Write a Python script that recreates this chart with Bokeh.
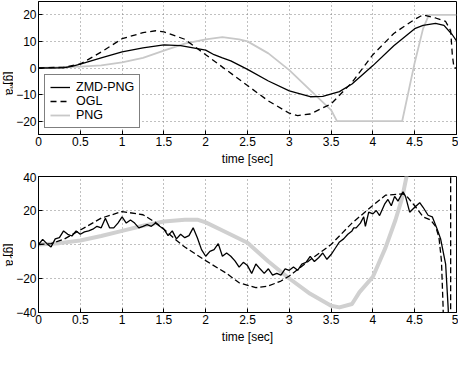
from math import pi
from bokeh.plotting import figure
from bokeh.layouts import column, row
from bokeh.models import Range1d, Label, Legend, LegendItem, FixedTicker
from bokeh.embed import file_html
from bokeh.resources import INLINE

# ---------------- data ----------------
x_ticks = [0, 0.5, 1, 1.5, 2, 2.5, 3, 3.5, 4, 4.5, 5]
x_tick_labels = ["0", "0.5", "1", "1.5", "2", "2.5", "3", "3.5", "4", "4.5", "5"]
top_y_ticks = [-20, -10, 0, 10, 20]
bot_y_ticks = [-40, -20, 0, 20, 40]

# top panel: missile acceleration a_M [g]
zmd_top_t = [0, 0.3, 0.4, 0.5, 0.75, 1.0, 1.25, 1.5, 1.7, 1.85, 2.0, 2.1, 2.2, 2.3, 2.5, 2.75,
             3.0, 3.25, 3.4, 3.6, 3.75, 4.0, 4.25, 4.5, 4.6, 4.75, 4.85, 4.95, 5.0]
zmd_top_y = [0, 0.1, 0.6, 1.5, 3.8, 6.1, 7.6, 8.7, 8.4, 7.6, 6.7, 5.0, 3.8, 2.7, -0.5, -4.9,
             -8.6, -10.8, -10.7, -8.9, -6.0, 0.9, 8.4, 14.8, 16.0, 16.8, 16.0, 12.5, 10.2]

ogl_top_t = [0, 0.3, 0.5, 0.75, 1.0, 1.25, 1.4, 1.5, 1.75, 2.0, 2.25, 2.5, 2.75, 3.0, 3.1, 3.25,
             3.5, 3.75, 4.0, 4.25, 4.5, 4.6, 4.75, 4.87, 4.93, 4.95, 4.97, 5.0]
ogl_top_y = [0, 0.3, 1.5, 6.0, 11.0, 13.3, 14.0, 13.6, 10.8, 5.0, -0.8, -6.6, -12.4, -17.0, -17.9, -17.3,
             -13.5, -5.4, 5.0, 13.0, 18.3, 20.0, 18.8, 17.5, 14.0, 5.0, 0.0, 0.0]

png_top_t = [0, 0.5, 0.75, 1.0, 1.25, 1.5, 1.75, 2.0, 2.2, 2.4, 2.5, 2.75, 3.0, 3.25, 3.5, 3.57,
             4.35, 4.5, 4.6, 4.67, 5.0]
png_top_y = [0, 0.5, 1.0, 2.1, 3.8, 6.5, 9.2, 10.8, 11.6, 10.8, 10.0, 5.5, -0.8, -8.3, -15.8, -20.0,
             -20.0, 2.0, 14.8, 20.0, 20.0]

# bottom panel: commanded acceleration a_C [g]
zmd_bot_t = [0.00, 0.05, 0.10, 0.15, 0.20, 0.25, 0.30, 0.35, 0.40, 0.45, 0.50, 0.55, 0.60, 0.65,
             0.70, 0.75, 0.80, 0.85, 0.90, 0.95, 1.00, 1.05, 1.10, 1.15, 1.20, 1.25, 1.30, 1.35,
             1.40, 1.45, 1.50, 1.55, 1.60, 1.65, 1.70, 1.75, 1.80, 1.85, 1.90, 1.95, 2.00, 2.05,
             2.10, 2.15, 2.20, 2.25, 2.30, 2.35, 2.40, 2.45, 2.50, 2.55, 2.60, 2.65, 2.70, 2.75,
             2.80, 2.85, 2.90, 2.95, 3.00, 3.05, 3.10, 3.15, 3.20, 3.25, 3.30, 3.35, 3.40, 3.45,
             3.50, 3.55, 3.60, 3.65, 3.70, 3.75, 3.77, 3.80, 3.85, 3.89, 3.91, 3.95, 4.00, 4.04,
             4.08, 4.14, 4.18, 4.22, 4.26, 4.30, 4.36, 4.39, 4.44, 4.50, 4.56, 4.60, 4.66, 4.71,
             4.77, 4.81, 4.87, 4.90, 4.92]
zmd_bot_y = [0.0, 3.0, 0.5, -1.5, 3.3, 4.0, 8.0, 6.0, 5.0, 8.0, 6.0, 7.4, 8.0, 9.0,
             10.7, 9.8, 15.4, 9.8, 9.8, 12.6, 16.3, 12.6, 14.4, 12.6, 9.8, 10.7, 11.7, 10.7,
             12.6, 10.7, 9.0, 5.2, 8.0, 3.3, 6.0, 4.0, 5.2, 9.8, 4.0, -3.0, -6.9, -4.0,
             -3.0, 0.5, -6.9, -5.0, -6.9, -9.6, -13.3, -10.5, -12.4, -17.0, -11.5, -14.3, -17.0, -14.3,
             -18.0, -17.0, -18.0, -14.3, -15.2, -13.3, -15.2, -11.5, -10.5, -7.0, -10.0, -7.8, -5.0, -8.7,
             -5.9, -2.2, 1.5, 3.3, 6.0, 8.0, 9.8, 9.8, 12.6, 16.3, 10.7, 19.0, 18.0, 20.0,
             17.0, 23.7, 26.5, 22.8, 28.3, 25.5, 31.0, 28.3, 19.0, 21.9, 24.6, 21.9, 17.2, 16.3,
             8.9, 3.3, -11.5, -37.0, -60.0]

ogl_bot_t = [0, 0.15, 0.3, 0.5, 0.75, 1.0, 1.25, 1.4, 1.5, 1.66, 1.75, 2.0, 2.25, 2.4, 2.6, 2.75,
             2.9, 3.0, 3.25, 3.5, 3.75, 4.0, 4.15, 4.35, 4.39, 4.5, 4.6, 4.69, 4.75, 4.79, 4.82,
             4.84, 4.86, 4.93, 4.93, 5.0]
ogl_bot_y = [0, 0.5, 3.0, 8.5, 15.5, 19.4, 17.5, 13.0, 9.0, 2.0, -1.5, -9.5, -17.0, -22.5, -25.4, -24.4,
             -21.5, -18.5, -9.0, 0.0, 12.6, 23.0, 29.0, 29.8, 29.3, 22.8, 16.3, 14.4, 10.7, 4.3, -9.6,
             -37.0, -100.0, -100.0, 100.0, 100.0]

png_bot_t = [0, 0.25, 0.5, 0.75, 1.0, 1.25, 1.5, 1.75, 1.9, 2.0, 2.17, 2.5, 2.75, 3.0, 3.25, 3.5,
             3.6, 3.75, 3.84, 4.0, 4.15, 4.27, 4.35, 4.4, 4.45]
png_bot_y = [0, 0.8, 2.4, 5.0, 8.0, 11.0, 13.5, 14.6, 14.6, 13.0, 9.0, 1.0, -10.0, -20.0, -29.0, -36.0,
             -37.0, -35.0, -28.0, -19.0, -2.0, 14.4, 27.4, 39.4, 60.0]

FONT = "Liberation Sans"
TICK_FS = "12px"
LAB_W = 13
W = 458 - LAB_W


def make_fig(height, yr, yticks, min_top):
    p = figure(width=W, height=height, x_range=Range1d(0, 5), y_range=Range1d(*yr),
               output_backend="svg", toolbar_location=None,
               min_border_left=20, min_border_right=2, min_border_top=min_top,
               min_border_bottom=38)
    p.xaxis.ticker = FixedTicker(ticks=x_ticks)
    p.xaxis.major_label_overrides = {t: l for t, l in zip(x_ticks, x_tick_labels)}
    p.yaxis.ticker = FixedTicker(ticks=yticks)
    for ax in (p.xaxis[0], p.yaxis[0]):
        ax.major_tick_in = 4
        ax.major_tick_out = 0
        ax.minor_tick_line_color = None
        ax.axis_line_color = "black"
        ax.major_tick_line_color = "black"
        ax.major_label_text_font = FONT
        ax.major_label_text_font_size = TICK_FS
        ax.major_label_text_color = "black"
        ax.major_label_standoff = 2
    p.xaxis.axis_label = "time [sec]"
    p.xaxis.axis_label_text_font = FONT
    p.xaxis.axis_label_text_font_size = "12px"
    p.xaxis.axis_label_text_font_style = "normal"
    p.xaxis.axis_label_text_color = "black"
    p.xaxis.axis_label_standoff = 3
    p.grid.grid_line_color = "#808080"
    p.grid.grid_line_dash = "1 3"
    p.grid.grid_line_width = 1
    p.xgrid.ticker = FixedTicker(ticks=x_ticks)
    p.ygrid.ticker = FixedTicker(ticks=yticks)
    p.outline_line_color = "black"
    p.outline_line_width = 1
    p.outline_line_alpha = 1
    p.background_fill_color = "white"
    p.border_fill_color = "white"
    return p


def label_fig(height, sub, y_start):
    # narrow strip holding the rotated y-axis title "a_sub [g]" (reads bottom-to-top)
    q = figure(width=LAB_W, height=height, x_range=Range1d(0, 1), y_range=Range1d(0, 1),
               output_backend="svg", toolbar_location=None, x_axis_type=None, y_axis_type=None,
               min_border_left=0, min_border_right=0, min_border_top=0, min_border_bottom=0)
    q.grid.visible = False
    q.outline_line_color = None
    q.background_fill_color = "white"
    q.border_fill_color = "white"
    xb = 9.8
    w_a = 6.7
    w_sub = 7.1 if sub == "M" else 6.1
    sp = 3.3
    common = dict(angle=-pi / 2, text_align="left", text_baseline="alphabetic",
                  text_font=FONT, text_color="black", x_units="canvas", y_units="canvas")
    q.add_layout(Label(x=xb, y=y_start, text="a", text_font_size="12px", **common))
    q.add_layout(Label(x=xb + 2.5, y=y_start - w_a, text=sub, text_font_size="8.5px", **common))
    q.add_layout(Label(x=xb, y=y_start - w_a - w_sub - sp, text="[g]", text_font_size="12px", **common))
    return q


# ---------------- top panel ----------------
top = make_fig(172, (-25, 25), top_y_ticks, 1)
r_png = top.line(png_top_t, png_top_y, line_color="#c8c8c8", line_width=1.8)
r_ogl = top.line(ogl_top_t, ogl_top_y, line_color="black", line_width=1.3, line_dash="6 4")
r_zmd = top.line(zmd_top_t, zmd_top_y, line_color="black", line_width=1.3)
legend = Legend(items=[LegendItem(label="ZMD-PNG", renderers=[r_zmd]),
                       LegendItem(label="OGL", renderers=[r_ogl]),
                       LegendItem(label="PNG", renderers=[r_png])],
                location="bottom_left", margin=6, padding=5, spacing=0,
                label_height=14, glyph_height=14, glyph_width=20, label_standoff=6,
                label_text_font=FONT, label_text_font_size="12.5px",
                border_line_color="black", border_line_width=1,
                background_fill_color="white", background_fill_alpha=1)
legend.label_text_color = "black"
top.add_layout(legend)
top_lab = label_fig(172, "M", 88)

# ---------------- bottom panel ----------------
bot = make_fig(178, (-40, 40), bot_y_ticks, 4)
bot.line(png_bot_t, png_bot_y, line_color="#d0d0d0", line_width=4, line_join="round")
bot.line(ogl_bot_t, ogl_bot_y, line_color="black", line_width=1.3, line_dash="6 3")
bot.line(zmd_bot_t, zmd_bot_y, line_color="black", line_width=1.3)
bot_lab = label_fig(178, "C", 87)

layout = column(row(top_lab, top, spacing=0), row(bot_lab, bot, spacing=0), spacing=0)
open("out.html", "w").write(file_html(layout, INLINE))
